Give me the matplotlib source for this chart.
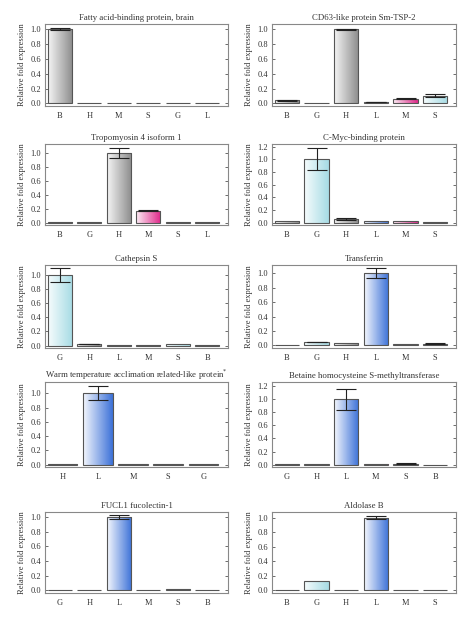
import numpy as np
import matplotlib
matplotlib.use("Agg")
import matplotlib.pyplot as plt
from matplotlib.colors import LinearSegmentedColormap

plt.rcParams['font.family'] = ['Liberation Serif', 'DejaVu Serif']

titles = [
    "Fatty acid-binding protein, brain",
    "CD63-like protein Sm-TSP-2",
    "Tropomyosin 4 isoform 1",
    "C-Myc-binding protein",
    "Cathepsin S",
    "Transferrin",
    "Warm temperature acclimation related-like protein$^{*}$",
    "Betaine homocysteine S-methyltransferase",
    "FUCL1 fucolectin-1",
    "Aldolase B",
]
tissues = [
    ["B", "H", "M", "S", "G", "L"],
    ["B", "G", "H", "L", "M", "S"],
    ["B", "G", "H", "M", "S", "L"],
    ["B", "G", "H", "L", "M", "S"],
    ["G", "H", "L", "M", "S", "B"],
    ["B", "G", "H", "L", "M", "S"],
    ["H", "L", "M", "S", "G"],
    ["G", "H", "L", "M", "S", "B"],
    ["G", "H", "L", "M", "S", "B"],
    ["B", "G", "H", "L", "M", "S"],
]
values = [
    [1.0, 0.005, 0.005, 0.005, 0.005, 0.005],
    [0.04, 0.01, 1.0, 0.02, 0.065, 0.10],
    [0.004, 0.004, 1.0, 0.17, 0.004, 0.004],
    [0.025, 1.0, 0.06, 0.025, 0.035, 0.02],
    [1.0, 0.02, 0.01, 0.01, 0.02, 0.004],
    [0.005, 0.05, 0.03, 1.0, 0.015, 0.025],
    [0.005, 1.0, 0.01, 0.005, 0.005],
    [0.006, 0.006, 1.0, 0.006, 0.015, 0.003],
    [0.004, 0.004, 1.0, 0.01, 0.015, 0.004],
    [0.008, 0.13, 0.006, 1.0, 0.006, 0.006],
]
errors = [
    [0.01, 0, 0, 0, 0, 0],
    [0.005, 0, 0.005, 0.005, 0.005, 0.02],
    [0, 0, 0.07, 0.005, 0, 0],
    [0, 0.17, 0.015, 0, 0, 0],
    [0.10, 0.005, 0, 0, 0, 0],
    [0, 0.005, 0, 0.07, 0, 0.005],
    [0, 0.10, 0, 0, 0],
    [0, 0, 0.16, 0, 0.005, 0],
    [0, 0, 0.03, 0, 0, 0],
    [0, 0, 0, 0.02, 0, 0],
]
ymax = [1.07, 1.07, 1.13, 1.24, 1.145, 1.115, 1.16, 1.26, 1.07, 1.08]

# gradient colours per tissue (left -> right)
tissue_colors = {
    "B": ("#f4f4f4", "#8c8c8c"),
    "H": ("#f4f4f4", "#8c8c8c"),
    "G": ("#f6fcfd", "#a6dbe4"),
    "S": ("#f6fcfd", "#a6dbe4"),
    "L": ("#f4f7fd", "#3d72d8"),
    "M": ("#fcecf4", "#e0288a"),
}

# axes boxes in pixels: (left, right) and (top, bottom)
W, H = 474, 620
col_x = [(45, 228), (272, 456)]
row_y = [(24, 106), (144, 225), (265, 348), (382, 467), (512, 593)]


def grad_bar(ax, x, h, w, c1, c2):
    bar = ax.bar(x, h, w, color="none", edgecolor="#555555", linewidth=0.8, zorder=3)
    cmap = LinearSegmentedColormap.from_list("g", [c1, c2])
    grad = np.linspace(0, 1, 64).reshape(1, -1)
    im = ax.imshow(grad, cmap=cmap, extent=[x - w / 2, x + w / 2, 0, h],
                   aspect="auto", zorder=2, interpolation="bilinear")
    im.set_clip_path(bar[0])


fig = plt.figure(figsize=(W / 100, H / 100), dpi=100)

for i in range(len(titles)):
    r, c = divmod(i, 2)
    x0, x1 = col_x[c]
    y0, y1 = row_y[r]
    ax = fig.add_axes([x0 / W, 1 - y1 / H, (x1 - x0) / W, (y1 - y0) / H])
    n = len(tissues[i])
    w = 0.82 if n == 6 else 0.84
    for j, (t, v, e) in enumerate(zip(tissues[i], values[i], errors[i])):
        c1, c2 = tissue_colors[t]
        grad_bar(ax, j, v, w, c1, c2)
        if e > 0:
            ax.errorbar(j, v, yerr=e, fmt="none", ecolor="#222222",
                        elinewidth=0.8, capsize=7, capthick=0.8, zorder=4)
    ax.set_xlim(-0.5, n - 1 + 0.7)
    ax.set_ylim(-0.035, ymax[i])
    top = 1.2 if ymax[i] >= 1.2 else 1.0
    yt = np.arange(0, top + 0.01, 0.2)
    ax.set_yticks(yt)
    ax.set_yticklabels(["%.1f" % v for v in yt])
    ax.set_xticks(range(n))
    ax.set_xticklabels(tissues[i])
    ax.tick_params(axis="x", length=0, labelsize=6, pad=4, colors="#333333")
    ax.tick_params(axis="y", direction="in", length=2, width=0.5, labelsize=6,
                   pad=3, colors="#333333", right=True)
    for s in ax.spines.values():
        s.set_color("#888888")
        s.set_linewidth(0.8)
    ax.set_ylabel("Relative fold expression", fontsize=6, color="#333333", labelpad=3)
    ax.set_title(titles[i], fontsize=6.3, color="#333333", pad=3)

fig.savefig("out.png", dpi=100)
